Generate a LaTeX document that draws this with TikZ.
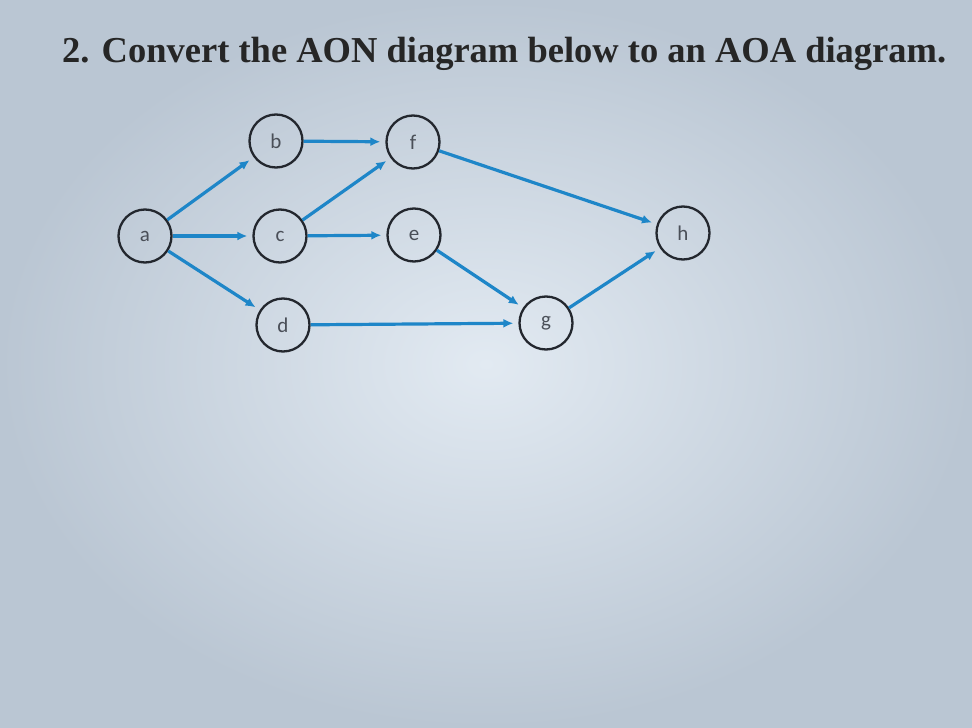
\documentclass[tikz,border=0pt]{standalone}
\usepackage{fontspec}
\setmainfont{Liberation Serif}
\newfontfamily\nodefont{Carlito}
\usetikzlibrary{arrows.meta}
\definecolor{bgouter}{HTML}{BAC6D3}
\definecolor{bginner}{HTML}{E2EAF2}
\definecolor{linkblue}{HTML}{1E86C8}
\definecolor{ringcol}{HTML}{23272E}
\definecolor{lettercol}{HTML}{4A4F58}
\tikzset{
  actnode/.style={circle, draw=ringcol, line width=2.3pt, minimum size=53pt, inner sep=0pt,
    font=\nodefont\fontsize{21}{21}\selectfont, text=lettercol},
  link/.style={draw=linkblue, line width=3.2pt, -{Latex[length=10pt,width=9pt]}, shorten >=5pt}
}
\begin{document}
\begin{tikzpicture}[x=1pt,y=-1pt]
\shade[inner color=bginner, outer color=bgouter] (0,0) rectangle (972,728);
\useasboundingbox (0,0) rectangle (972,728);
\node[anchor=base west, inner sep=0pt, font=\bfseries\fontsize{36.5}{40}\selectfont, text=black!85] (title) at (62,62) {2. Convert the AON diagram below to an AOA diagram.};
\node[actnode] (a) at (145,236) {a};
\node[actnode] (b) at (276,141) {b};
\node[actnode] (c) at (280,236) {c};
\node[actnode] (d) at (283,325) {d};
\node[actnode] (f) at (413,142) {f};
\node[actnode] (e) at (414,235) {e};
\node[actnode] (g) at (546,323) {g};
\node[actnode] (h) at (683,233) {h};
\draw[link] (a) -- (b);
\draw[link] (a) -- (c);
\draw[link] (a) -- (d);
\draw[link] (b) -- (f);
\draw[link] (c) -- (f);
\draw[link] (c) -- (e);
\draw[link] (e) -- (g);
\draw[link] (d) -- (g);
\draw[link] (f) -- (h);
\draw[link] (g) -- (h);
\end{tikzpicture}
\end{document}
